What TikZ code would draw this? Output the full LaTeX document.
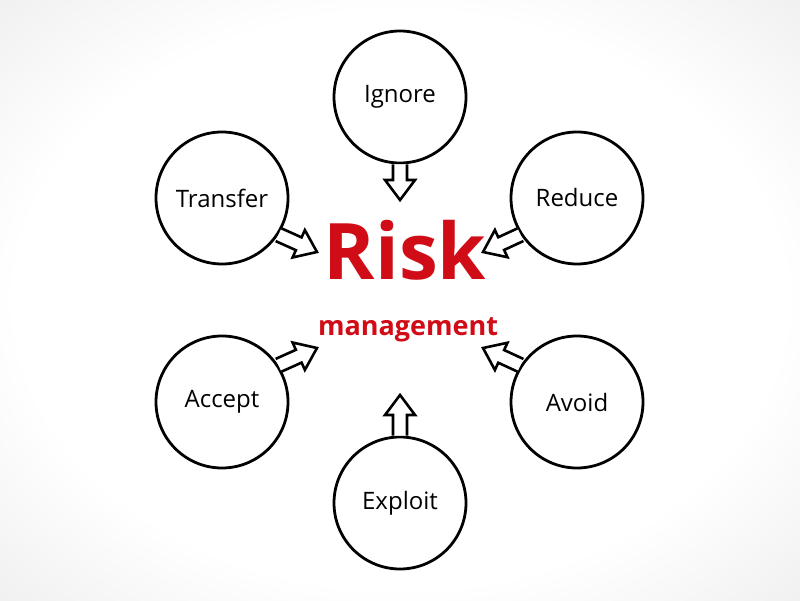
\documentclass[tikz,border=0pt]{standalone}
\usepackage{fontspec}
\setmainfont{Open Sans}
\usepackage{tikz}
\usetikzlibrary{calc}
\definecolor{riskred}{RGB}{208,12,22}
\pgfdeclareradialshading{bgshade}{\pgfpoint{0bp}{0bp}}{color(0bp)=(white); color(24bp)=(white); color(50bp)=(black!13); color(71bp)=(black!22)}
\tikzset{
  option/.style={draw, circle, line width=2.8pt, fill=white, minimum size=132pt, inner sep=0pt, font=\fontsize{24}{28}\selectfont},
  blockarr/.style={draw, line width=2.6pt, fill=white, line join=miter},
}
% hollow block arrow from #1 to #2
\newcommand\blockarrow[2]{%
  \draw[blockarr] let \p1=($(#2)-(#1)$), \n1={atan2(\y1,\x1)}, \n2={veclen(\x1,\y1)} in
    [shift={(#1)}, rotate=\n1] (0,7) -- (\n2-20,7) -- (\n2-20,15) -- (\n2,0) -- (\n2-20,-15) -- (\n2-20,-7) -- (0,-7);}

\begin{document}
\begin{tikzpicture}[x=1pt, y=1pt]
\shade[shading=bgshade] (0,0) rectangle (800,600);
\useasboundingbox (0,0) rectangle (800,600);

\node[option] (ignore)   at (400,503) {Ignore};
\node[option] (transfer) at (222,402) {Transfer};
\node[option] (reduce)   at (577,402) {Reduce};
\node[option] (accept)   at (222,198) {Accept};
\node[option] (avoid)    at (577,198) {Avoid};
\node[option] (exploit)  at (400,97)  {Exploit};

\node[text=riskred, font=\fontsize{78}{86}\selectfont\bfseries, anchor=base] (risk) at (405,320) {Risk};
\node[text=riskred, font=\fontsize{27}{31}\selectfont\bfseries, anchor=base] (mgmt) at (408,264) {management};

% arrow tips round the centre
\coordinate (tip-ignore)   at (400,400);
\coordinate (tip-transfer) at (317,348);
\coordinate (tip-reduce)   at (483,348);
\coordinate (tip-accept)   at (317,252);
\coordinate (tip-avoid)    at (483,252);
\coordinate (tip-exploit)  at (400,205);

\blockarrow{ignore.south}{tip-ignore}
\blockarrow{transfer.-33}{tip-transfer}
\blockarrow{reduce.213}{tip-reduce}
\blockarrow{accept.33}{tip-accept}
\blockarrow{avoid.147}{tip-avoid}
\blockarrow{exploit.north}{tip-exploit}
\end{tikzpicture}
\end{document}
